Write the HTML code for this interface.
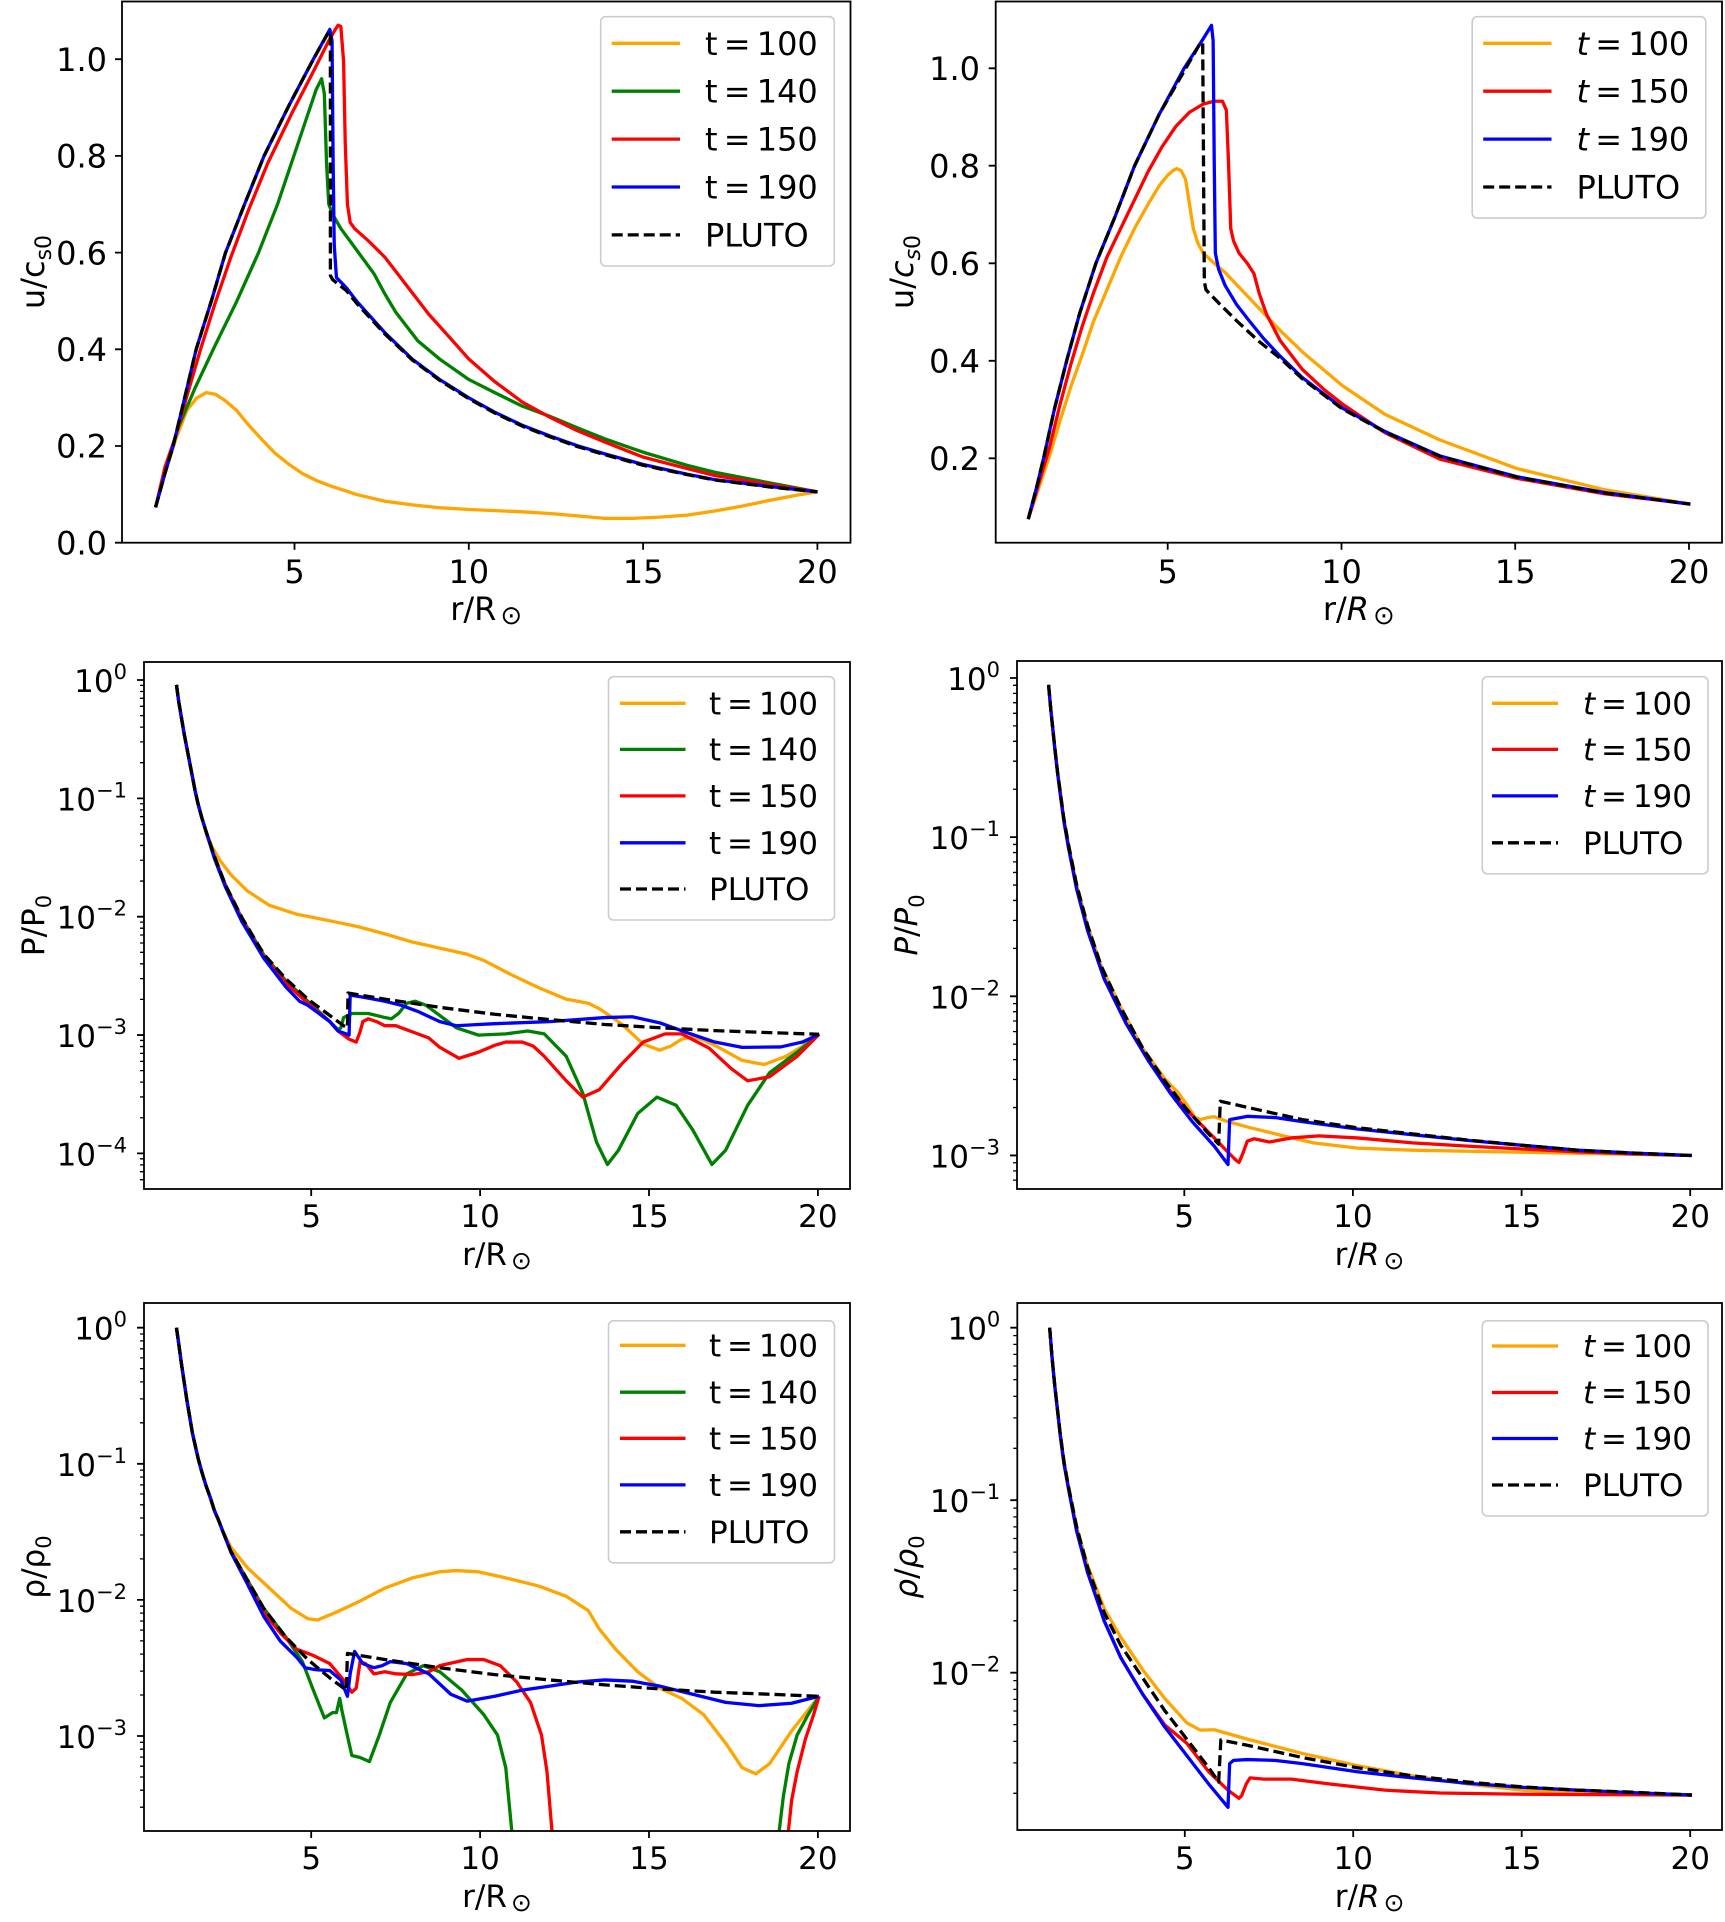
<!DOCTYPE html>
<html>
<head>
<meta charset="utf-8">
<style>
html,body{margin:0;padding:0;background:#fff;}
svg{display:block;}
.c polyline{vector-effect:non-scaling-stroke;fill:none;stroke-width:3.3;stroke-linejoin:round;stroke-linecap:butt;}
.o{stroke:#ffa500}.g{stroke:#008000}.r{stroke:#ff0000}.b{stroke:#0000ff}
.k{stroke:#000;stroke-dasharray:11 5}
.ax{fill:none;stroke:#000;stroke-width:1.8}
.tk{stroke:#000;stroke-width:1.8}
.mt{stroke:#000;stroke-width:1.3}
.lg{fill:#fff;fill-opacity:0.8;stroke:#cccccc;stroke-width:1.6}
text{fill:#000}
</style>
</head>
<body>
<svg width="1725" height="1922" viewBox="0 0 1725 1922" xmlns="http://www.w3.org/2000/svg" font-family="'DejaVu Sans','Liberation Sans',sans-serif">
<defs>
<clipPath id="cTL"><rect x="122" y="1.5" width="728.5" height="541.2"/></clipPath>
<clipPath id="cTR"><rect x="995.7" y="1.5" width="726.3" height="541.2"/></clipPath>
<clipPath id="cML"><rect x="144" y="662" width="706" height="527"/></clipPath>
<clipPath id="cMR"><rect x="1017" y="661" width="705" height="528"/></clipPath>
<clipPath id="cBL"><rect x="144" y="1303" width="706" height="528"/></clipPath>
<clipPath id="cBR"><rect x="1017.3" y="1303" width="704.7" height="527"/></clipPath>
</defs>

<!-- ================= TOP LEFT ================= -->
<g clip-path="url(#cTL)"><g class="c" transform="matrix(0.54974 0 0 0.40816 0 0)">
<polyline class="o" points="283,1243 300,1160 320,1075 340,1005 358,975 375,962 392,966 410,982 430,1005 450,1038 475,1075 500,1110 525,1137 550,1160 575,1177 600,1190 650,1212 700,1228 750,1237 800,1244 850,1248 900,1251 950,1254 1000,1258 1050,1264 1100,1270 1150,1270 1200,1267 1250,1262 1300,1252 1350,1240 1400,1226 1450,1213 1487,1205"/>
<polyline class="g" points="283,1243 300,1150 325,1045 355,950 390,850 430,740 470,620 505,500 535,380 560,280 575,220 585,193 590,230 594,400 598,500 605,525 620,560 650,615 680,670 700,720 720,765 760,835 800,880 853,930 900,962 950,995 1000,1020 1050,1048 1100,1075 1170,1108 1250,1140 1300,1157 1400,1183 1487,1205"/>
<polyline class="r" points="283,1243 300,1145 318,1075 340,970 365,855 392,740 420,630 452,515 487,400 530,280 572,170 598,100 610,72 615,62 620,65 625,150 628,350 632,500 637,545 645,560 670,590 700,630 740,700 780,770 820,830 853,880 900,935 950,985 1000,1022 1050,1055 1100,1083 1170,1120 1250,1148 1300,1165 1400,1187 1487,1205"/>
<polyline class="b" points="283,1243 300,1160 315,1092 335,980 357,855 385,735 410,620 445,500 480,383 525,260 570,145 600,72 604,100 606,400 608,600 612,680 630,705 650,740 700,815 750,880 800,930 853,975 900,1010 950,1042 1000,1068 1050,1092 1100,1112 1170,1138 1250,1162 1300,1175 1400,1192 1487,1205"/>
<polyline class="k" points="283,1243 300,1160 315,1092 335,980 357,855 385,735 410,620 445,500 480,383 525,260 570,145 598,78 601,80 601,675 605,685 630,712 650,745 700,818 750,882 800,932 853,977 900,1012 950,1044 1000,1070 1050,1094 1100,1114 1170,1140 1250,1163 1300,1176 1400,1193 1487,1205"/>
</g></g>
<rect class="ax" x="122" y="1.5" width="728.5" height="541.2"/>
<path class="tk" d="M294.5 542.7v7M468.8 542.7v7M643.1 542.7v7M817.4 542.7v7M115 542.7h7M115 446h7M115 349.3h7M115 252.6h7M115 155.9h7M115 59.2h7"/>
<g font-size="32" text-anchor="middle">
<text x="294.5" y="583">5</text><text x="468.8" y="583">10</text><text x="643.1" y="583">15</text><text x="817.4" y="583">20</text>
</g>
<g font-size="32" text-anchor="end">
<text x="107" y="554.4">0.0</text><text x="107" y="457.7">0.2</text><text x="107" y="361">0.4</text><text x="107" y="264.3">0.6</text><text x="107" y="167.6">0.8</text><text x="107" y="70.9">1.0</text>
</g>
<text font-size="32" text-anchor="middle" x="486.2" y="620">r/R<tspan font-size="26" dx="4" dy="4">⊙</tspan></text>
<text font-size="32" text-anchor="middle" transform="translate(44,272) rotate(-90)">u/c<tspan font-size="22" dy="7">s0</tspan></text>
<rect class="lg" x="600.7" y="16.7" width="233.6" height="249.3" rx="5"/>
<g stroke-width="3.3">
<path d="M611.7 43.3H680" stroke="#ffa500"/><path d="M611.7 91.2H680" stroke="#008000"/><path d="M611.7 139.1H680" stroke="#ff0000"/><path d="M611.7 187H680" stroke="#0000ff"/><path d="M611.7 234.9H680" stroke="#000" stroke-dasharray="11 5"/>
</g>
<g font-size="32" word-spacing="-4">
<text x="705" y="54.8">t = 100</text><text x="705" y="102.7">t = 140</text><text x="705" y="150.6">t = 150</text><text x="705" y="198.5">t = 190</text><text x="705" y="246.4">PLUTO</text>
</g>

<!-- ================= TOP RIGHT ================= -->
<g clip-path="url(#cTR)"><g class="c" transform="matrix(0.55038 0 0 0.40816 862 0)">
<polyline class="o" points="302,1272 320,1200 340,1120 360,1030 380,945 400,870 420,790 445,710 470,630 495,560 520,500 540,455 555,430 565,418 572,413 580,418 588,440 595,500 602,560 610,595 620,620 640,645 660,668 700,725 760,810 800,862 873,945 950,1015 1050,1078 1190,1148 1350,1200 1505,1235"/>
<polyline class="r" points="302,1272 320,1190 340,1100 360,990 380,890 400,800 420,720 445,630 470,560 495,490 520,420 545,360 570,310 595,275 620,255 640,248 655,248 662,270 666,400 670,560 675,590 685,620 700,645 712,670 722,720 735,770 760,835 800,905 840,955 873,990 950,1060 1050,1125 1190,1172 1350,1210 1505,1235"/>
<polyline class="b" points="302,1272 318,1190 330,1122 350,1000 372,883 395,770 425,645 460,530 495,407 540,280 585,168 620,95 635,62 638,100 640,400 642,620 648,660 660,700 680,745 700,780 730,830 760,873 800,925 873,1000 950,1057 1050,1117 1190,1168 1350,1207 1505,1235"/>
<polyline class="k" points="302,1272 318,1190 330,1122 350,1000 372,883 395,770 425,645 460,530 495,407 540,280 585,175 615,105 619,105 620,300 621,500 622,690 625,710 650,745 680,785 720,835 760,878 800,928 873,1002 950,1058 1050,1118 1190,1169 1350,1208 1505,1235"/>
</g></g>
<rect class="ax" x="995.7" y="1.5" width="726.3" height="541.2"/>
<path class="tk" d="M1167.7 542.7v7M1341.5 542.7v7M1515.2 542.7v7M1689 542.7v7M988.7 458.3h7M988.7 360.8h7M988.7 263.3h7M988.7 165.7h7M988.7 68.3h7"/>
<g font-size="32" text-anchor="middle">
<text x="1167.7" y="583">5</text><text x="1341.5" y="583">10</text><text x="1515.2" y="583">15</text><text x="1689" y="583">20</text>
</g>
<g font-size="32" text-anchor="end">
<text x="980" y="470">0.2</text><text x="980" y="372.5">0.4</text><text x="980" y="275">0.6</text><text x="980" y="177.4">0.8</text><text x="980" y="80">1.0</text>
</g>
<text font-size="32" text-anchor="middle" x="1358.8" y="620">r/<tspan font-style="italic">R</tspan><tspan font-size="26" dx="4" dy="4">⊙</tspan></text>
<text font-size="32" text-anchor="middle" transform="translate(913,272) rotate(-90)">u/<tspan font-style="italic">c</tspan><tspan font-size="22" dy="7"><tspan font-style="italic">s</tspan>0</tspan></text>
<rect class="lg" x="1472.2" y="16.7" width="233.6" height="201.4" rx="5"/>
<g stroke-width="3.3">
<path d="M1483.2 43.3H1551.5" stroke="#ffa500"/><path d="M1483.2 91.2H1551.5" stroke="#ff0000"/><path d="M1483.2 139.1H1551.5" stroke="#0000ff"/><path d="M1483.2 187H1551.5" stroke="#000" stroke-dasharray="11 5"/>
</g>
<g font-size="32" word-spacing="-4">
<text x="1576.5" y="54.8"><tspan font-style="italic">t</tspan> = 100</text><text x="1576.5" y="102.7"><tspan font-style="italic">t</tspan> = 150</text><text x="1576.5" y="150.6"><tspan font-style="italic">t</tspan> = 190</text><text x="1576.5" y="198.5">PLUTO</text>
</g>

<!-- ================= MIDDLE LEFT ================= -->
<g clip-path="url(#cML)"><g class="c" transform="matrix(0.54974 0 0 0.40816 0 640)">
<polyline class="o" points="321,110 325,150 330,190 335,230 340,265 345,300 350,335 355,370 360,400 367,435 375,470 385,505 400,540 420,575 450,615 490,650 540,672 600,688 650,702 700,720 750,740 800,755 850,770 880,785 930,820 980,852 1030,880 1070,890 1090,903 1130,940 1170,990 1200,1005 1220,995 1240,978 1260,972 1280,980 1310,1000 1350,1030 1390,1040 1430,1020 1460,995 1490,966"/>
<polyline class="g" points="321,110 325,150 330,190 335,230 340,265 345,300 350,335 355,370 360,400 367,435 375,470 390,530 410,600 440,682 480,772 520,835 560,885 600,935 615,955 620,950 625,925 640,915 670,915 700,925 712,928 725,915 740,890 755,885 775,895 790,910 830,950 870,968 920,965 960,958 990,965 1030,1020 1060,1110 1085,1230 1105,1285 1125,1250 1160,1160 1195,1120 1230,1140 1260,1200 1295,1285 1320,1250 1360,1140 1400,1060 1450,1010 1490,966"/>
<polyline class="r" points="321,110 325,150 330,190 335,230 340,265 345,300 350,335 355,370 360,400 367,435 375,470 390,532 410,600 440,685 480,775 520,840 560,890 600,935 615,958 635,978 648,985 655,960 660,935 670,928 685,935 700,945 720,945 740,955 760,965 780,975 800,998 835,1025 870,1010 900,993 920,985 950,985 970,995 990,1020 1030,1080 1060,1120 1090,1102 1130,1040 1170,985 1210,965 1240,965 1290,1000 1330,1050 1360,1080 1400,1070 1450,1020 1490,966"/>
<polyline class="b" points="321,110 325,150 330,190 335,230 340,265 345,300 350,335 355,370 360,400 367,435 375,470 390,535 410,605 440,690 480,780 520,850 545,885 560,895 580,915 600,935 615,958 630,965 635,968 637,870 660,875 700,885 730,895 760,910 800,935 830,945 870,942 900,940 1000,935 1100,925 1150,923 1200,938 1250,962 1300,985 1350,998 1420,997 1460,985 1490,966"/>
<polyline class="k" points="321,110 325,150 330,190 335,230 340,265 345,300 350,335 355,370 360,400 367,435 375,470 390,530 410,600 440,680 480,770 520,830 560,880 600,920 625,945 632,950 633,865 700,880 800,900 900,917 1000,930 1100,942 1200,950 1300,957 1400,962 1490,966"/>
</g></g>
<rect class="ax" x="144" y="662" width="706" height="527"/>
<path class="tk" d="M311.2 1189v7M480.1 1189v7M649 1189v7M817.9 1189v7M137 680h7M137 798.35h7M137 916.7h7M137 1035.05h7M137 1153.4h7"/>
<path class="mt" d="M140 762.7h4M140 741.9h4M140 727.1h4M140 715.6h4M140 706.3h4M140 698.3h4M140 691.5h4M140 685.4h4M140 881.05h4M140 860.25h4M140 845.45h4M140 833.95h4M140 824.65h4M140 816.65h4M140 809.85h4M140 803.75h4M140 999.4h4M140 978.6h4M140 963.8h4M140 952.3h4M140 943h4M140 935h4M140 928.2h4M140 922.1h4M140 1117.75h4M140 1096.95h4M140 1082.15h4M140 1070.65h4M140 1061.35h4M140 1053.35h4M140 1046.55h4M140 1040.45h4M140 1158.8h4M140 1164.9h4M140 1171.7h4M140 1179.7h4"/>
<g font-size="31" text-anchor="middle">
<text x="311.2" y="1227">5</text><text x="480.1" y="1227">10</text><text x="649" y="1227">15</text><text x="817.9" y="1227">20</text>
</g>
<g font-size="31" text-anchor="end">
<text x="127" y="692">10<tspan font-size="21" dy="-13">0</tspan></text>
<text x="127" y="810.35">10<tspan font-size="21" dy="-13">−1</tspan></text>
<text x="127" y="928.7">10<tspan font-size="21" dy="-13">−2</tspan></text>
<text x="127" y="1047.05">10<tspan font-size="21" dy="-13">−3</tspan></text>
<text x="127" y="1165.4">10<tspan font-size="21" dy="-13">−4</tspan></text>
</g>
<text font-size="31" text-anchor="middle" x="497" y="1265">r/R<tspan font-size="25" dx="4" dy="4">⊙</tspan></text>
<text font-size="31" text-anchor="middle" transform="translate(44,925.5) rotate(-90)">P/P<tspan font-size="21" dy="7">0</tspan></text>
<rect class="lg" x="608.5" y="676.7" width="226" height="243.3" rx="5"/>
<g stroke-width="3.3">
<path d="M620 703.3H685.5" stroke="#ffa500"/><path d="M620 749.4H685.5" stroke="#008000"/><path d="M620 795.9H685.5" stroke="#ff0000"/><path d="M620 842.8H685.5" stroke="#0000ff"/><path d="M620 889H685.5" stroke="#000" stroke-dasharray="11 5"/>
</g>
<g font-size="31" word-spacing="-4">
<text x="709" y="714.5">t = 100</text><text x="709" y="760.6">t = 140</text><text x="709" y="807.1">t = 150</text><text x="709" y="854">t = 190</text><text x="709" y="900.2">PLUTO</text>
</g>

<!-- ================= MIDDLE RIGHT ================= -->
<g clip-path="url(#cMR)"><g class="c" transform="matrix(0.55038 0 0 0.40816 862 640)">
<polyline class="o" points="339,110 343,170 350,260 355,320 360,370 367,440 375,500 390,600 410,700 435,800 470,900 510,1000 550,1075 575,1110 590,1138 605,1170 615,1175 628,1170 640,1168 660,1178 700,1193 760,1213 820,1232 900,1245 1000,1250 1200,1255 1508,1263"/>
<polyline class="r" points="339,110 343,170 350,262 355,322 360,375 367,445 375,507 390,610 410,712 440,830 480,940 520,1030 560,1105 600,1165 640,1220 665,1255 680,1275 685,1280 692,1258 700,1228 712,1222 740,1230 760,1225 780,1220 830,1215 900,1220 1000,1232 1100,1240 1200,1247 1300,1254 1400,1259 1508,1263"/>
<polyline class="b" points="339,110 343,170 350,262 355,322 360,375 367,445 375,507 390,610 410,712 440,830 480,940 520,1030 560,1110 600,1180 640,1240 665,1285 668,1175 700,1167 750,1170 800,1180 900,1198 1000,1212 1100,1226 1200,1238 1300,1250 1400,1257 1508,1263"/>
<polyline class="k" points="339,110 343,170 350,260 355,320 360,370 367,440 375,500 390,600 410,700 435,800 470,900 510,1000 550,1080 590,1150 630,1210 648,1235 651,1130 700,1145 800,1175 900,1195 1000,1210 1100,1225 1200,1238 1300,1250 1400,1257 1508,1263"/>
</g></g>
<rect class="ax" x="1017" y="661" width="705" height="528"/>
<path class="tk" d="M1184.3 1189v7M1352.9 1189v7M1521.6 1189v7M1690.2 1189v7M1010 678h7M1010 837.15h7M1010 996.3h7M1010 1155.45h7"/>
<path class="mt" d="M1013 789.25h4M1013 761.2h4M1013 741.3h4M1013 725.9h4M1013 713.3h4M1013 702.7h4M1013 693.4h4M1013 685.3h4M1013 948.4h4M1013 920.35h4M1013 900.45h4M1013 885.05h4M1013 872.45h4M1013 861.85h4M1013 852.55h4M1013 844.45h4M1013 1107.55h4M1013 1079.5h4M1013 1059.6h4M1013 1044.2h4M1013 1031.6h4M1013 1021h4M1013 1011.7h4M1013 1003.6h4M1013 1162.75h4M1013 1170.85h4M1013 1180.15h4"/>
<g font-size="31" text-anchor="middle">
<text x="1184.3" y="1227">5</text><text x="1352.9" y="1227">10</text><text x="1521.6" y="1227">15</text><text x="1690.2" y="1227">20</text>
</g>
<g font-size="31" text-anchor="end">
<text x="1000" y="690">10<tspan font-size="21" dy="-13">0</tspan></text>
<text x="1000" y="849.15">10<tspan font-size="21" dy="-13">−1</tspan></text>
<text x="1000" y="1008.3">10<tspan font-size="21" dy="-13">−2</tspan></text>
<text x="1000" y="1167.45">10<tspan font-size="21" dy="-13">−3</tspan></text>
</g>
<text font-size="31" text-anchor="middle" x="1369.5" y="1265">r/<tspan font-style="italic">R</tspan><tspan font-size="25" dx="4" dy="4">⊙</tspan></text>
<text font-size="31" text-anchor="middle" transform="translate(917,925) rotate(-90)"><tspan font-style="italic">P</tspan>/<tspan font-style="italic">P</tspan><tspan font-size="21" dy="7">0</tspan></text>
<rect class="lg" x="1482.3" y="676.7" width="225.7" height="197.1" rx="5"/>
<g stroke-width="3.3">
<path d="M1492 703.3H1558" stroke="#ffa500"/><path d="M1492 749.4H1558" stroke="#ff0000"/><path d="M1492 795.9H1558" stroke="#0000ff"/><path d="M1492 842.8H1558" stroke="#000" stroke-dasharray="11 5"/>
</g>
<g font-size="31" word-spacing="-4">
<text x="1583" y="714.5"><tspan font-style="italic">t</tspan> = 100</text><text x="1583" y="760.6"><tspan font-style="italic">t</tspan> = 150</text><text x="1583" y="807.1"><tspan font-style="italic">t</tspan> = 190</text><text x="1583" y="854">PLUTO</text>
</g>

<!-- ================= BOTTOM LEFT ================= -->
<g clip-path="url(#cBL)"><g class="c" transform="matrix(0.54974 0 0 0.40816 0 1282)">
<polyline class="o" points="321,112 325,150 330,200 335,245 340,290 345,330 350,370 355,400 360,430 367,465 375,500 383,530 390,560 398,585 405,610 420,650 450,700 490,750 530,800 560,825 578,828 610,810 650,785 700,750 750,725 800,710 830,707 870,710 920,725 980,745 1030,770 1070,805 1090,850 1120,900 1160,955 1200,995 1240,1020 1280,1060 1320,1130 1350,1190 1375,1205 1400,1180 1440,1100 1490,1015"/>
<polyline class="g" points="321,112 325,150 330,200 335,245 340,290 345,330 350,370 355,400 360,430 367,465 375,500 383,530 390,560 398,585 405,610 420,660 450,730 480,800 520,870 550,930 570,1000 590,1068 605,1055 612,1055 618,1020 622,1050 630,1100 640,1160 655,1165 672,1175 690,1110 710,1030 740,960 770,940 800,955 840,1000 880,1060 905,1110 920,1190 932,1360"/>
<polyline class="g" points="1416,1360 1425,1260 1435,1180 1450,1110 1470,1060 1490,1015"/>
<polyline class="r" points="321,112 325,150 330,200 335,245 340,290 345,330 350,370 355,400 360,430 367,465 375,500 383,530 390,560 398,585 405,610 420,660 450,735 480,810 510,860 540,900 570,915 600,935 625,975 640,1005 648,995 655,930 665,935 680,960 700,955 720,960 750,962 780,955 800,940 850,925 880,925 910,940 940,980 965,1030 985,1110 995,1200 1005,1360"/>
<polyline class="r" points="1433,1360 1440,1270 1450,1200 1465,1120 1480,1060 1490,1015"/>
<polyline class="b" points="321,112 325,150 330,200 335,245 340,290 345,330 350,370 355,400 360,430 367,465 375,500 383,530 390,560 398,585 405,610 420,662 450,740 480,820 510,880 540,920 555,945 575,950 600,952 620,975 632,1015 637,960 645,905 660,935 680,945 695,940 710,930 740,935 780,960 820,1010 850,1027 900,1015 950,1000 1000,990 1050,980 1100,975 1150,978 1200,990 1260,1010 1320,1030 1380,1038 1440,1032 1490,1015"/>
<polyline class="k" points="321,112 325,150 330,200 335,245 340,290 345,330 350,370 355,400 360,430 367,465 375,500 383,530 390,560 398,585 405,610 420,660 450,730 480,800 520,870 560,925 600,970 630,1000 632,910 700,925 800,945 900,962 1000,975 1100,987 1200,997 1300,1005 1400,1010 1490,1015"/>
</g></g>
<rect class="ax" x="144" y="1303" width="706" height="528"/>
<path class="tk" d="M311.2 1831v7M480.1 1831v7M649 1831v7M817.9 1831v7M137 1327.7h7M137 1463.8h7M137 1599.9h7M137 1736h7"/>
<path class="mt" d="M140 1422.8h4M140 1398.9h4M140 1381.9h4M140 1368.7h4M140 1357.9h4M140 1348.8h4M140 1340.9h4M140 1334h4M140 1558.9h4M140 1535h4M140 1518h4M140 1504.8h4M140 1494h4M140 1484.9h4M140 1477h4M140 1470.1h4M140 1695h4M140 1671.1h4M140 1654.1h4M140 1640.9h4M140 1630.1h4M140 1621h4M140 1613.1h4M140 1606.2h4M140 1807.2h4M140 1790.2h4M140 1777h4M140 1766.2h4M140 1757.1h4M140 1749.2h4M140 1742.3h4"/>
<g font-size="31" text-anchor="middle">
<text x="311.2" y="1869">5</text><text x="480.1" y="1869">10</text><text x="649" y="1869">15</text><text x="817.9" y="1869">20</text>
</g>
<g font-size="31" text-anchor="end">
<text x="127" y="1339.7">10<tspan font-size="21" dy="-13">0</tspan></text>
<text x="127" y="1475.8">10<tspan font-size="21" dy="-13">−1</tspan></text>
<text x="127" y="1611.9">10<tspan font-size="21" dy="-13">−2</tspan></text>
<text x="127" y="1748">10<tspan font-size="21" dy="-13">−3</tspan></text>
</g>
<text font-size="31" text-anchor="middle" x="497" y="1907">r/R<tspan font-size="25" dx="4" dy="4">⊙</tspan></text>
<text font-size="31" text-anchor="middle" transform="translate(44,1567) rotate(-90)">ρ/ρ<tspan font-size="21" dy="7">0</tspan></text>
<rect class="lg" x="608.5" y="1320.8" width="226" height="242" rx="5"/>
<g stroke-width="3.3">
<path d="M620 1345.3H685.5" stroke="#ffa500"/><path d="M620 1392.2H685.5" stroke="#008000"/><path d="M620 1438.3H685.5" stroke="#ff0000"/><path d="M620 1484.9H685.5" stroke="#0000ff"/><path d="M620 1531.8H685.5" stroke="#000" stroke-dasharray="11 5"/>
</g>
<g font-size="31" word-spacing="-4">
<text x="709" y="1356.5">t = 100</text><text x="709" y="1403.4">t = 140</text><text x="709" y="1449.5">t = 150</text><text x="709" y="1496.1">t = 190</text><text x="709" y="1543">PLUTO</text>
</g>

<!-- ================= BOTTOM RIGHT ================= -->
<g clip-path="url(#cBR)"><g class="c" transform="matrix(0.55038 0 0 0.40816 862 1282)">
<polyline class="o" points="341,112 345,180 350,250 355,310 360,370 367,440 375,500 390,600 410,695 440,800 470,870 510,950 550,1020 590,1080 615,1098 640,1097 700,1120 800,1155 900,1185 1000,1210 1100,1230 1200,1245 1300,1252 1508,1257"/>
<polyline class="r" points="341,112 345,180 350,252 355,312 360,373 367,445 375,505 390,610 410,712 440,830 470,920 510,1010 550,1085 590,1130 630,1200 665,1245 685,1265 690,1258 698,1230 705,1215 730,1218 780,1218 850,1230 950,1245 1050,1252 1200,1255 1508,1257"/>
<polyline class="b" points="341,112 345,180 350,252 355,312 360,373 367,445 375,505 390,610 410,712 440,830 470,920 510,1010 550,1090 590,1160 630,1230 665,1287 668,1180 675,1172 700,1170 750,1172 800,1180 900,1200 1000,1215 1100,1228 1200,1238 1300,1245 1400,1251 1508,1257"/>
<polyline class="k" points="341,112 345,180 350,250 355,310 360,370 367,440 375,500 390,600 410,700 440,810 470,890 510,970 550,1050 590,1120 630,1190 648,1225 652,1122 700,1135 800,1165 900,1190 1000,1210 1100,1225 1200,1237 1300,1245 1400,1250 1508,1257"/>
</g></g>
<rect class="ax" x="1017.3" y="1303" width="704.7" height="527"/>
<path class="tk" d="M1184.8 1830v7M1353.2 1830v7M1521.7 1830v7M1690.2 1830v7M1010.3 1327.7h7M1010.3 1500.2h7M1010.3 1672.7h7"/>
<path class="mt" d="M1013.3 1448.3h4M1013.3 1417.9h4M1013.3 1396.4h4M1013.3 1379.6h4M1013.3 1366h4M1013.3 1354.4h4M1013.3 1344.4h4M1013.3 1335.6h4M1013.3 1620.8h4M1013.3 1590.4h4M1013.3 1568.9h4M1013.3 1552.1h4M1013.3 1538.5h4M1013.3 1526.9h4M1013.3 1516.9h4M1013.3 1508.1h4M1013.3 1793.3h4M1013.3 1762.9h4M1013.3 1741.4h4M1013.3 1724.6h4M1013.3 1711h4M1013.3 1699.4h4M1013.3 1689.4h4M1013.3 1680.6h4"/>
<g font-size="31" text-anchor="middle">
<text x="1184.8" y="1869">5</text><text x="1353.2" y="1869">10</text><text x="1521.7" y="1869">15</text><text x="1690.2" y="1869">20</text>
</g>
<g font-size="31" text-anchor="end">
<text x="1000.3" y="1339.7">10<tspan font-size="21" dy="-13">0</tspan></text>
<text x="1000.3" y="1512.2">10<tspan font-size="21" dy="-13">−1</tspan></text>
<text x="1000.3" y="1684.7">10<tspan font-size="21" dy="-13">−2</tspan></text>
</g>
<text font-size="31" text-anchor="middle" x="1369.6" y="1907">r/<tspan font-style="italic">R</tspan><tspan font-size="25" dx="4" dy="4">⊙</tspan></text>
<text font-size="31" text-anchor="middle" transform="translate(917,1567) rotate(-90)"><tspan font-style="italic">ρ</tspan>/<tspan font-style="italic">ρ</tspan><tspan font-size="21" dy="7">0</tspan></text>
<rect class="lg" x="1482.3" y="1320.8" width="225.7" height="195.2" rx="5"/>
<g stroke-width="3.3">
<path d="M1492 1346H1558" stroke="#ffa500"/><path d="M1492 1392.5H1558" stroke="#ff0000"/><path d="M1492 1438.5H1558" stroke="#0000ff"/><path d="M1492 1485H1558" stroke="#000" stroke-dasharray="11 5"/>
</g>
<g font-size="31" word-spacing="-4">
<text x="1583" y="1357.2"><tspan font-style="italic">t</tspan> = 100</text><text x="1583" y="1403.7"><tspan font-style="italic">t</tspan> = 150</text><text x="1583" y="1449.7"><tspan font-style="italic">t</tspan> = 190</text><text x="1583" y="1496.2">PLUTO</text>
</g>
</svg>
</body>
</html>
